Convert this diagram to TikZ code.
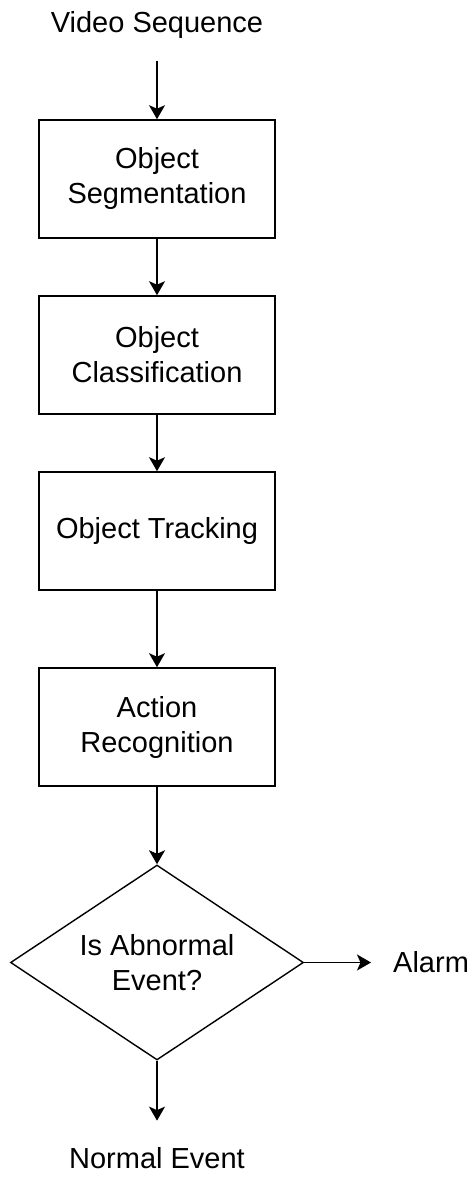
\documentclass[tikz,border=0pt]{standalone}
\usepackage{fontspec}
\setmainfont{Liberation Sans}
\usetikzlibrary{shapes.geometric,arrows.meta}
\tikzset{>={Stealth[length=14pt,width=16pt,inset=3.5pt]}}
\tikzset{
  stage/.style = {draw, line width=1.6pt, minimum width=236pt, minimum height=118pt, align=center},
  decision/.style = {draw, diamond, aspect=1.5, line width=1.4pt, minimum width=293pt, minimum height=195pt, inner sep=0pt, align=center},
  label/.style = {inner sep=0pt},
  flow/.style = {->, line width=1.6pt}
}

\begin{document}
\begin{tikzpicture}[x=1pt, y=-1pt, font=\fontsize{29}{35}\selectfont]
  \useasboundingbox (0,0) rectangle (474,1180);
  % stages
  \node[label] (video) at (157,25) {Video Sequence};
  \node[stage] (seg) at (157,179) {Object\\Segmentation};
  \node[stage] (cls) at (157,355) {Object\\Classification};
  \node[stage] (track) at (157,531) {Object Tracking};
  \node[stage] (action) at (157,727) {Action\\Recognition};
  \node[decision] (abnormal) at (157,962.5) {Is Abnormal\\Event?};
  \node[label, anchor=west] (alarm) at (393,962.5) {Alarm};
  \node[label] (normal) at (157,1158.5) {Normal Event};
  % arrows
  \draw[flow, shorten <=22pt] (video) -- (seg);
  \draw[flow] (seg) -- (cls);
  \draw[flow] (cls) -- (track);
  \draw[flow] (track) -- (action);
  \draw[flow] (action) -- (abnormal);
  \draw[flow, shorten >=22pt] (abnormal.east) -- (alarm.west);
  \draw[flow, shorten >=27pt] (abnormal) -- (normal);
\end{tikzpicture}
\end{document}
